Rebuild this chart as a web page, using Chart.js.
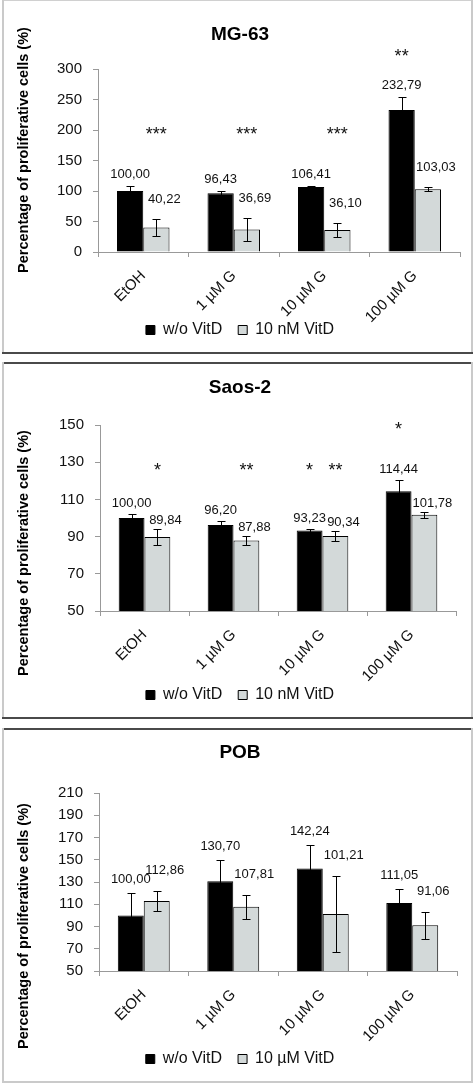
<!DOCTYPE html>
<html>
<head>
<meta charset="utf-8">
<script src="https://cdn.jsdelivr.net/npm/chart.js@4.4.1/dist/chart.umd.min.js"></script>
<style>
    body { margin: 0; background: #fff; }
    #page { position: relative; width: 474px; height: 1084px; overflow: hidden; background: #fff; }
    canvas { position: absolute; left: 0; }
    .edge { position: absolute; }
</style>
</head>
<body>
<div id="page">
    <canvas id="mg63" width="474" height="353" style="top:0px"></canvas>
    <canvas id="saos2" width="474" height="355" style="top:363px"></canvas>
    <canvas id="pob" width="474" height="353" style="top:729px"></canvas>

    <!-- panel frames -->
    <div class="edge" style="left:2px;top:0px;width:471px;height:1px;background:#d0d0d0"></div>
    <div class="edge" style="left:2px;top:0px;width:2px;height:354px;background:#cacaca"></div>
    <div class="edge" style="left:471px;top:0px;width:2px;height:354px;background:#cacaca"></div>
    <div class="edge" style="left:2px;top:352px;width:471px;height:2px;background:#4a4a4a"></div>

    <div class="edge" style="left:2px;top:362px;width:471px;height:2px;background:#4a4a4a"></div>
    <div class="edge" style="left:2px;top:362px;width:2px;height:356px;background:#cacaca"></div>
    <div class="edge" style="left:471px;top:362px;width:2px;height:356px;background:#cacaca"></div>
    <div class="edge" style="left:2px;top:717px;width:471px;height:2px;background:#4a4a4a"></div>

    <div class="edge" style="left:2px;top:728px;width:471px;height:2px;background:#4a4a4a"></div>
    <div class="edge" style="left:2px;top:728px;width:2px;height:355px;background:#cacaca"></div>
    <div class="edge" style="left:471px;top:728px;width:2px;height:355px;background:#cacaca"></div>
    <div class="edge" style="left:2px;top:1081px;width:471px;height:2px;background:#cacaca"></div>
</div>

<script>
var categories = ['EtOH', '1 µM G', '10 µM G', '100 µM G'];

// MG-63
var mgNoVitD = [100.00, 96.43, 106.41, 232.79];
var mgVitD = [40.22, 36.69, 36.10, 103.03];
var mgNoVitDErr = [8, 4, 1, 22];
var mgVitDErr = [14, 19, 11.5, 3];
var mgNoVitDStars = ['', '', '', '**'];
var mgVitDStars = ['***', '***', '***', ''];
var mgNoVitDStarAt = [0, 0, 0, 328];
var mgVitDStarAt = [200, 200, 200, 0];
var mgTicks = [0, 50, 100, 150, 200, 250, 300];

// Saos-2
var saNoVitD = [100.00, 96.20, 93.23, 114.44];
var saVitD = [89.84, 87.88, 90.34, 101.78];
var saNoVitDErr = [2.4, 2.3, 1, 6];
var saVitDErr = [4.3, 2.6, 2.8, 1.6];
var saNoVitDStars = ['', '', '*', '*'];
var saVitDStars = ['*', '**', '**', ''];
var saNoVitDStarAt = [0, 0, 128, 150];
var saVitDStarAt = [128, 128, 128, 0];
var saTicks = [50, 70, 90, 110, 130, 150];

// POB
var pobNoVitD = [100.00, 130.70, 142.24, 111.05];
var pobVitD = [112.86, 107.81, 101.21, 91.06];
var pobNoVitDErr = [20, 19.5, 21, 12.5];
var pobVitDErr = [9.3, 10.8, 34, 12.4];
var pobTicks = [50, 70, 90, 110, 130, 150, 170, 190, 210];

var yTitle = 'Percentage of proliferative cells (%)';

var FONT = '"Liberation Sans", Arial, Helvetica, sans-serif';
var BLACK = '#000000';
var GREY = '#d3d9d9';
Chart.defaults.font.family = FONT;
Chart.defaults.color = '#111';

// error bars, value labels, significance stars and the y title
var marksPlugin = {
    id: 'marks',
    beforeDraw: function (chart) {
        // rotated category labels run past the axis box, let them show
        chart.scales.x._computeLabelArea = function () { return undefined; };
    },
    afterDatasetsDraw: function (chart) {
        var ctx = chart.ctx;
        var yScale = chart.scales.y;
        var st = chart.options.plugins.marks;
        ctx.save();
        chart.data.datasets.forEach(function (ds, i) {
            var meta = chart.getDatasetMeta(i);
            meta.data.forEach(function (bar, j) {
                var v = ds.data[j];
                var e = ds.errors[j];
                var top = Math.round(yScale.getPixelForValue(v + e)) + 0.5;
                var bottom = Math.round(yScale.getPixelForValue(v - e)) + 0.5;
                var x = Math.round(bar.x) + 0.5;
                ctx.strokeStyle = '#000';
                ctx.lineWidth = 1;
                ctx.beginPath();
                ctx.moveTo(x, top); ctx.lineTo(x, bottom);
                ctx.moveTo(x - 4, top); ctx.lineTo(x + 4, top);
                ctx.moveTo(x - 4, bottom); ctx.lineTo(x + 4, bottom);
                ctx.stroke();

                ctx.fillStyle = '#111';
                ctx.font = '13px ' + FONT;
                ctx.textAlign = 'center';
                ctx.textBaseline = 'middle';
                ctx.fillText(v.toFixed(2).replace('.', ','), bar.x + ds.labelShift, top - ds.labelGap);

                if (ds.stars && ds.stars[j]) {
                    ctx.font = '18px ' + FONT;
                    ctx.textBaseline = 'alphabetic';
                    ctx.fillText(ds.stars[j], bar.x, yScale.getPixelForValue(ds.starAt[j]) + 10);
                }
            });
        });

        ctx.translate(st.titleX, st.titleY);
        ctx.rotate(-Math.PI / 2);
        ctx.fillStyle = '#000';
        ctx.font = 'bold 14.5px ' + FONT;
        ctx.textAlign = 'center';
        ctx.textBaseline = 'middle';
        ctx.fillText(yTitle, 0, 0);
        ctx.restore();
    }
};

function drawPanel(id, p) {
    var L = 6;
    var lp = 16;
    var titleTop = p.titleC - 11.4;
    var titleBottom = p.plotTop - p.titleC - 11.4;
    var legendTop = p.legendC - (lp + 8);
    var legendH = 16 + lp + 10;
    var padBottom = p.height - legendTop - legendH;
    var xH = legendTop - p.plotBottom;

    new Chart(document.getElementById(id), {
        type: 'bar',
        data: {
            labels: categories,
            datasets: [{
                label: 'w/o VitD',
                data: p.black,
                errors: p.blackErr,
                stars: p.blackStars,
                starAt: p.blackStarAt,
                labelShift: 0,
                labelGap: p.gapBlack,
                backgroundColor: BLACK,
                borderColor: '#000',
                borderWidth: 1
            }, {
                label: p.greyLabel,
                data: p.grey,
                errors: p.greyErr,
                stars: p.greyStars,
                starAt: p.greyStarAt,
                labelShift: 8,
                labelGap: p.gapGrey,
                backgroundColor: GREY,
                borderColor: '#000',
                borderWidth: 1
            }]
        },
        options: {
            responsive: false,
            animation: false,
            categoryPercentage: 0.58,
            barPercentage: 1,
            layout: { padding: { left: L, right: 0, top: 0, bottom: padBottom } },
            plugins: {
                marks: { titleX: 24, titleY: p.yTitleC },
                title: {
                    display: true,
                    text: p.title,
                    color: '#000',
                    font: { size: 19, weight: 'bold', lineHeight: 1.2 },
                    padding: { top: titleTop, bottom: titleBottom }
                },
                legend: {
                    position: 'bottom',
                    labels: {
                        color: '#111',
                        font: { size: 16 },
                        boxWidth: 9,
                        boxHeight: 9,
                        padding: lp
                    }
                },
                tooltip: { enabled: false }
            },
            scales: {
                x: {
                    clip: false,
                    grid: { display: true, drawOnChartArea: false, tickLength: 5, color: '#999', offset: true },
                    border: { color: '#999' },
                    ticks: { font: { size: 15 }, color: '#111', minRotation: 45, maxRotation: 45, padding: 10 },
                    afterFit: function (s) { s.height = xH; }
                },
                y: {
                    min: p.ticks[0],
                    max: p.ticks[p.ticks.length - 1],
                    grid: { display: true, drawOnChartArea: false, tickLength: 5, color: '#999' },
                    border: { color: '#999' },
                    ticks: { font: { size: 15 }, color: '#111', padding: 11 },
                    afterBuildTicks: function (s) {
                        s.ticks = p.ticks.map(function (v) { return { value: v }; });
                    },
                    afterFit: function (s) { s.width = p.plotLeft - L; }
                },
                yr: {
                    type: 'linear',
                    position: 'right',
                    grid: { display: false },
                    border: { display: false },
                    ticks: { display: false },
                    afterFit: function (s) { s.width = 474 - p.plotRight; }
                }
            }
        },
        plugins: [marksPlugin]
    });
}

drawPanel('mg63', {
    title: 'MG-63', greyLabel: '10 nM VitD',
    black: mgNoVitD, grey: mgVitD, blackErr: mgNoVitDErr, greyErr: mgVitDErr,
    blackStars: mgNoVitDStars, greyStars: mgVitDStars,
    blackStarAt: mgNoVitDStarAt, greyStarAt: mgVitDStarAt,
    ticks: mgTicks, gapBlack: 12, gapGrey: 20,
    height: 353, plotTop: 69, plotBottom: 252, plotLeft: 98, plotRight: 460,
    titleC: 35, legendC: 330, yTitleC: 150
});

drawPanel('saos2', {
    title: 'Saos-2', greyLabel: '10 nM VitD',
    black: saNoVitD, grey: saVitD, blackErr: saNoVitDErr, greyErr: saVitDErr,
    blackStars: saNoVitDStars, greyStars: saVitDStars,
    blackStarAt: saNoVitDStarAt, greyStarAt: saVitDStarAt,
    ticks: saTicks, gapBlack: 11, gapGrey: 9,
    height: 355, plotTop: 62, plotBottom: 248, plotLeft: 100, plotRight: 456,
    titleC: 25, legendC: 332, yTitleC: 190
});

drawPanel('pob', {
    title: 'POB', greyLabel: '10 µM VitD',
    black: pobNoVitD, grey: pobVitD, blackErr: pobNoVitDErr, greyErr: pobVitDErr,
    blackStars: null, greyStars: null, blackStarAt: null, greyStarAt: null,
    ticks: pobTicks, gapBlack: 14, gapGrey: 21,
    height: 353, plotTop: 64, plotBottom: 242, plotLeft: 99, plotRight: 457,
    titleC: 24, legendC: 330, yTitleC: 197
});
</script>
</body>
</html>
